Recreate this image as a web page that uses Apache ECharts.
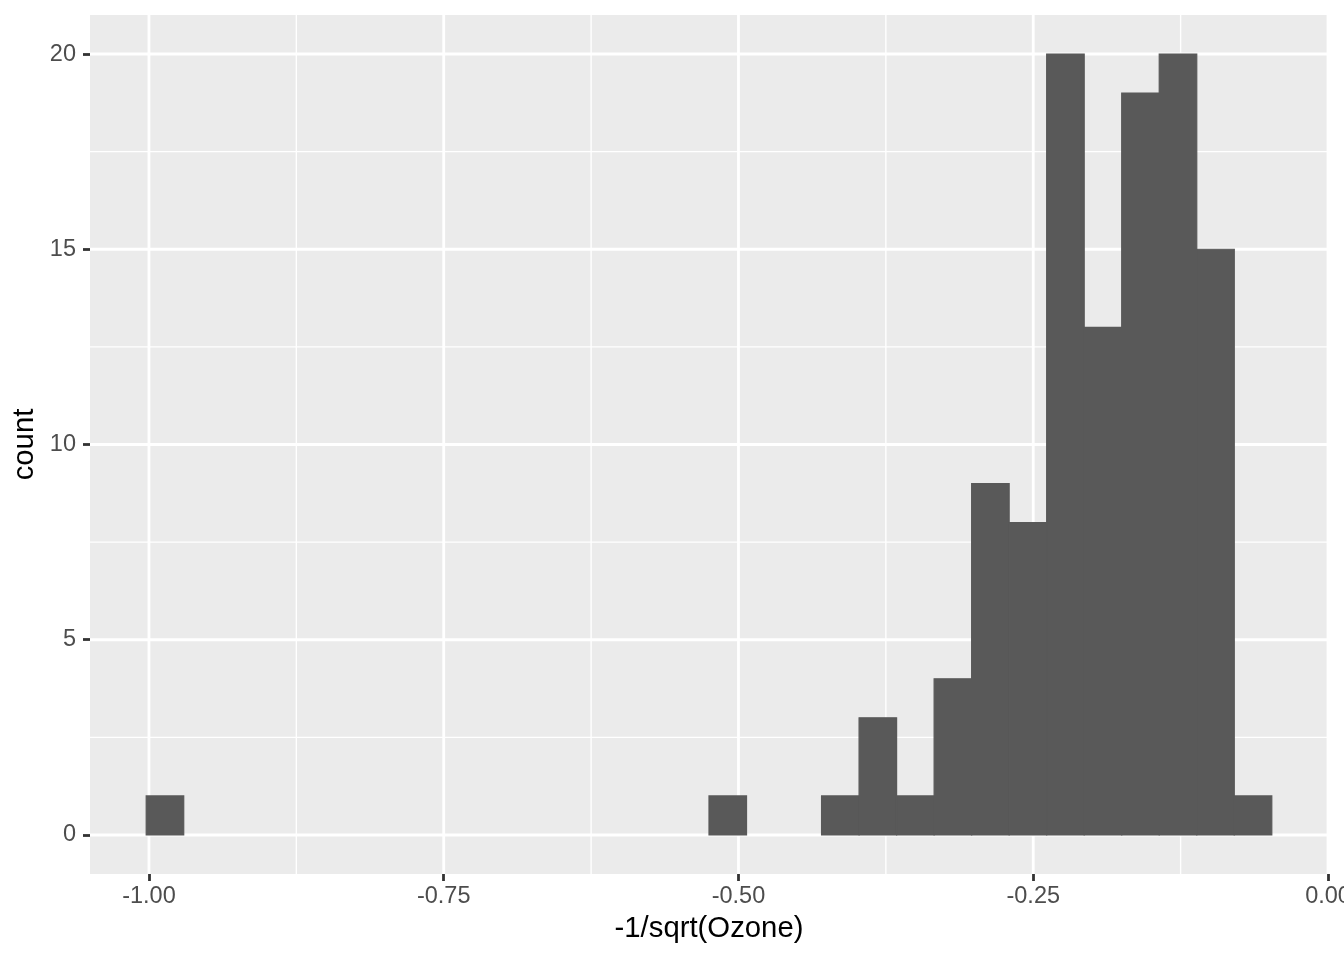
<!DOCTYPE html>
<html>
<head>
<meta charset="utf-8">
<script src="https://cdn.jsdelivr.net/npm/echarts@6/dist/echarts.min.js"></script>
<style>
  html, body { margin: 0; padding: 0; background: #ffffff; }
  #chart { width: 1344px; height: 960px; }
</style>
</head>
<body>
<div id="chart"></div>
<script>
// Histogram of -1/sqrt(Ozone), 30 bins (ggplot2 default binning)
const binOrigin = -1.00233;
const binWidth = 0.031822;
const binCounts = [1, 0, 0, 0, 0, 0, 0, 0, 0, 0,
                   0, 0, 0, 0, 0, 1, 0, 0, 1, 3,
                   1, 4, 9, 8, 20, 13, 19, 20, 15, 1];
const xMajorTicks = [-1.00, -0.75, -0.50, -0.25, 0.00];
const xMinorTicks = [-0.875, -0.625, -0.375, -0.125];
const yMajorTicks = [0, 5, 10, 15, 20];
const yMinorTicks = [2.5, 7.5, 12.5, 17.5];
const xRange = [-1.05, 0.0];
const yRange = [-1, 21];

const barData = [];
binCounts.forEach(function (c, i) {
  if (c > 0) {
    const s = binOrigin + i * binWidth;
    barData.push([s, s + binWidth, c]);
  }
});

const vLines = xMajorTicks.map(v => [v, 1]).concat(xMinorTicks.map(v => [v, 0]));
const hLines = yMajorTicks.map(v => [v, 1]).concat(yMinorTicks.map(v => [v, 0]));

const FONT = '"Liberation Sans", Arial, Helvetica, sans-serif';

const chart = echarts.init(document.getElementById('chart'), null, { renderer: 'canvas' });
chart.setOption({
  backgroundColor: '#ffffff',
  animation: false,
  grid: {
    left: 90, right: 16, top: 15, bottom: 86,
    containLabel: false,
    outerBoundsMode: 'none',
    show: true, backgroundColor: '#EBEBEB', borderWidth: 0
  },
  xAxis: {
    type: 'value',
    min: xRange[0], max: xRange[1],
    axisLine: { show: false, onZero: false },
    splitLine: { show: false },
    axisTick: { show: true, inside: false, customValues: xMajorTicks, length: 7, lineStyle: { color: '#333333', width: 2.8 } },
    axisLabel: {
      customValues: xMajorTicks,
      formatter: v => v.toFixed(2),
      color: '#4D4D4D', fontSize: 23.5, fontFamily: FONT, margin: 11,
      hideOverlap: false
    },
    name: '-1/sqrt(Ozone)',
    nameLocation: 'middle',
    nameGap: 40,
    nameTextStyle: { color: '#000000', fontSize: 29.3, fontFamily: FONT }
  },
  yAxis: {
    type: 'value',
    min: yRange[0], max: yRange[1],
    axisLine: { show: false, onZero: false },
    splitLine: { show: false },
    axisTick: { show: true, inside: false, customValues: yMajorTicks, length: 7, lineStyle: { color: '#333333', width: 2.8 } },
    axisLabel: {
      customValues: yMajorTicks,
      formatter: v => String(v),
      color: '#4D4D4D', fontSize: 23.5, fontFamily: FONT, margin: 14
    },
    name: 'count',
    nameLocation: 'middle',
    nameGap: 46,
    nameTextStyle: { color: '#000000', fontSize: 29.3, fontFamily: FONT }
  },
  series: [
    {
      type: 'custom',
      z: 1,
      silent: true,
      data: vLines,
      renderItem: function (params, api) {
        const x = api.value(0);
        const major = api.value(1) === 1;
        const p1 = api.coord([x, yRange[0]]);
        const p2 = api.coord([x, yRange[1]]);
        return {
          type: 'line',
          shape: { x1: p1[0], y1: p1[1], x2: p2[0], y2: p2[1] },
          style: { stroke: '#FFFFFF', lineWidth: major ? 2.85 : 1.42 }
        };
      }
    },
    {
      type: 'custom',
      z: 1,
      silent: true,
      data: hLines,
      renderItem: function (params, api) {
        const y = api.value(0);
        const major = api.value(1) === 1;
        const p1 = api.coord([xRange[0], y]);
        const p2 = api.coord([xRange[1], y]);
        return {
          type: 'line',
          shape: { x1: p1[0], y1: p1[1], x2: p2[0], y2: p2[1] },
          style: { stroke: '#FFFFFF', lineWidth: major ? 2.85 : 1.42 }
        };
      }
    },
    {
      type: 'custom',
      z: 2,
      data: barData,
      encode: { x: [0, 1], y: 2 },
      renderItem: function (params, api) {
        const a = api.coord([api.value(0), api.value(2)]);
        const b = api.coord([api.value(1), 0]);
        return {
          type: 'rect',
          shape: { x: a[0], y: a[1], width: b[0] - a[0], height: b[1] - a[1] },
          style: { fill: '#595959', stroke: '#595959', lineWidth: 1.2 }
        };
      }
    }
  ]
});
</script>
</body>
</html>
